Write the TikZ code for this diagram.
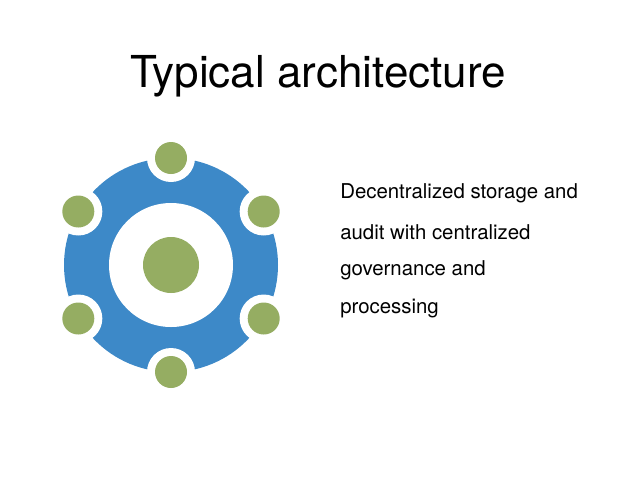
\documentclass[tikz,border=0pt]{standalone}
\usepackage{fontspec}
\setmainfont{TeX Gyre Heros}
\usetikzlibrary{calc}
\definecolor{ringblue}{HTML}{3D89C8}
\definecolor{nodegreen}{HTML}{95AD62}
\begin{document}
\begin{tikzpicture}[x=0.75pt,y=-0.75pt,
  sat/.style={circle,fill=nodegreen,minimum size=32*0.75pt,inner sep=0pt},
  body/.style={anchor=west,font=\fontsize{15.3pt}{18pt}\selectfont,inner sep=0pt}]
\useasboundingbox[fill=white] (0,0) rectangle (638,479);
\node[font=\fontsize{33pt}{38pt}\selectfont] (title) at (318,76) {Typical architecture};
\coordinate (c) at (171,265);
\fill[ringblue] (c) circle (107);
\fill[white] (c) circle (62);
\foreach \a in {90,30,-30,-90,-150,150}{
  \fill[white] ($(c)+(\a:107)$) circle (24);
}
\node[circle,fill=nodegreen,minimum size=56*0.75pt,inner sep=0pt] (hub) at (c) {};
\node[sat] (s1) at (171,158) {};
\node[sat] (s2) at (263.7,211.5) {};
\node[sat] (s3) at (263.7,318.5) {};
\node[sat] (s4) at (171,372) {};
\node[sat] (s5) at (78.3,318.5) {};
\node[sat] (s6) at (78.3,211.5) {};
\node[body] (t1) at (340,193) {Decentralized storage and};
\node[body] (t2) at (340,232) {audit with centralized};
\node[body] (t3) at (340,270) {governance and};
\node[body] (t4) at (340,309) {processing};
\end{tikzpicture}
\end{document}
